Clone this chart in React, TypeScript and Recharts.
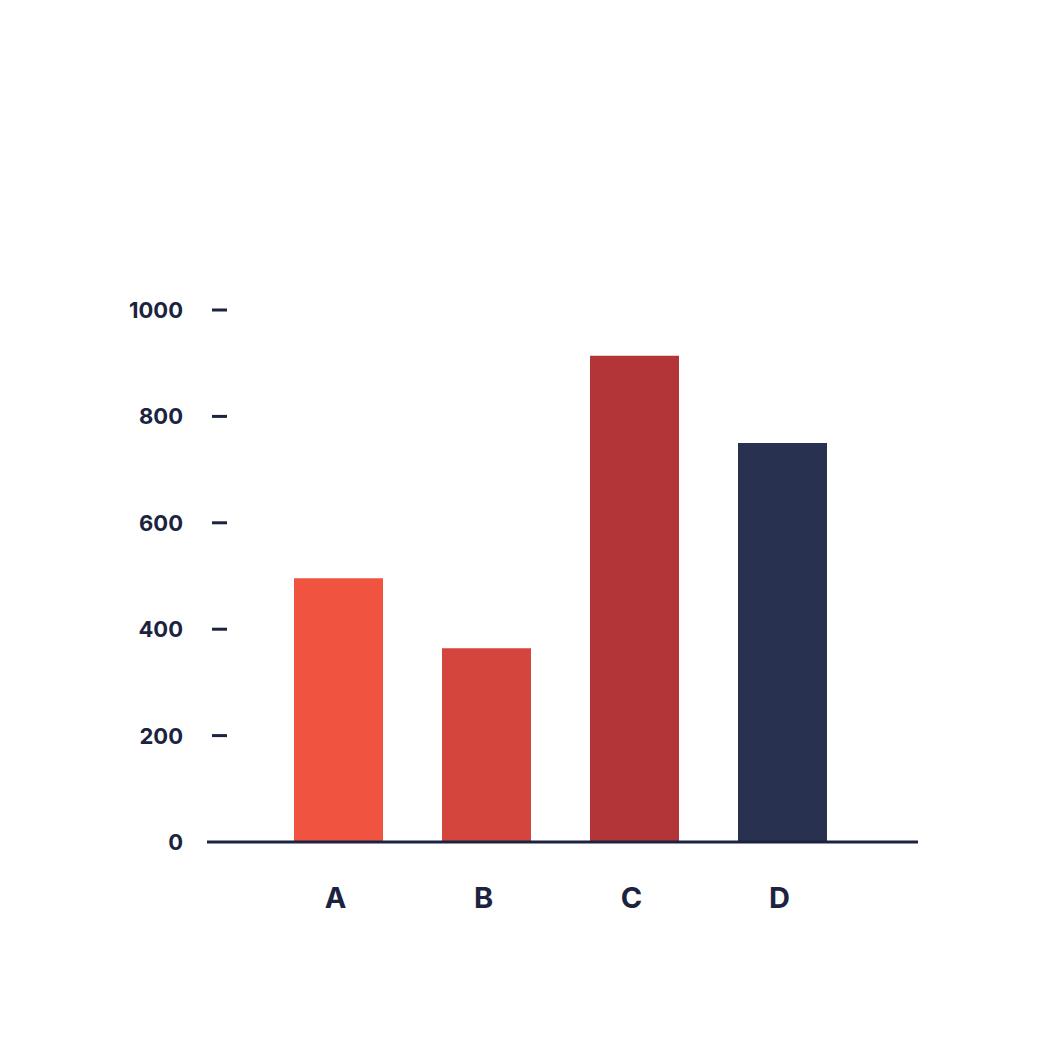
import React from 'react';
import { BarChart, Bar, XAxis, YAxis, Cell } from 'recharts';

const categories = ['A', 'B', 'C', 'D'];
const values = [496, 364, 914, 750];
const barColors = ['#F05441', '#D4453D', '#B33538', '#283250'];
const yTicks = [0, 200, 400, 600, 800, 1000];

const navy = '#1B2340';
const font = 'Inter, "Noto Sans", sans-serif';

const data = categories.map((name, i) => ({ name, value: values[i] }));

// y tick: label right-aligned, short dash to the right of the axis position
const YTick = (props: any) => {
    const { x, y, payload } = props;
    return (
        <g>
            <text
                x={x - 24}
                y={y}
                dy="0.36em"
                textAnchor="end"
                fill={navy}
                fontFamily={font}
                fontWeight={700}
                fontSize={22}
            >
                {payload.value}
            </text>
            {payload.value !== 0 && (
                <line x1={x + 5} x2={x + 20} y1={y} y2={y} stroke={navy} strokeWidth={3} />
            )}
        </g>
    );
};

const XTick = (props: any) => {
    const { x, y, payload } = props;
    return (
        <text
            x={x - 3}
            y={y + 66}
            textAnchor="middle"
            fill={navy}
            fontFamily={font}
            fontWeight={700}
            fontSize={29}
        >
            {payload.value}
        </text>
    );
};

export default function App() {
    return (
        <div style={{ width: 1055, height: 1055, background: '#fff' }}>
            <BarChart
                width={1055}
                height={1055}
                data={data}
                margin={{ top: 302, right: 145, bottom: 0, left: 0 }}
                barCategoryGap={29.5}
            >
                <YAxis
                    domain={[0, 1000]}
                    ticks={yTicks}
                    width={199}
                    axisLine={false}
                    tickLine={false}
                    tickSize={0}
                    tickMargin={0}
                    tick={<YTick />}
                    interval={0}
                />
                <XAxis
                    dataKey="name"
                    height={221}
                    padding={{ left: 57.5, right: 61.5 }}
                    axisLine={{ stroke: navy, strokeWidth: 3 }}
                    tickLine={false}
                    tickSize={0}
                    tickMargin={0}
                    tick={<XTick />}
                    interval={0}
                />
                <Bar dataKey="value" isAnimationActive={false}>
                    {data.map((d, i) => (
                        <Cell key={d.name} fill={barColors[i]} />
                    ))}
                </Bar>
            </BarChart>
        </div>
    );
}
